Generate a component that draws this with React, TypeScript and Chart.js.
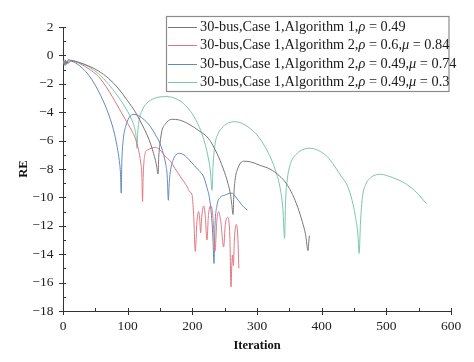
import React, { useEffect, useRef } from 'react';
import { Chart, registerables } from 'chart.js';

Chart.register(...registerables);

// ---- Data ----
const LEGEND_SEGMENTS: string[][] = [
  ['30-bus,Case 1,Algorithm 1,', 'ρ', ' = 0.49'],
  ['30-bus,Case 1,Algorithm 2,', 'ρ', ' = 0.6,', 'μ', ' = 0.84'],
  ['30-bus,Case 1,Algorithm 2,', 'ρ', ' = 0.49,', 'μ', ' = 0.74'],
  ['30-bus,Case 1,Algorithm 2,', 'ρ', ' = 0.49,', 'μ', ' = 0.3'],
];
const SERIES_COLORS = ['#777777', '#e07780', '#6089bd', '#78c6a8'];

const ALG1_X = [0, 2, 4, 6, 8, 12, 25, 40, 55, 70, 85, 100, 112, 122, 130, 136, 140, 143, 145, 147, 148, 150, 153, 158, 168, 180, 195, 210, 225, 238, 248, 255, 259, 261, 263, 264, 266, 270, 279, 290, 305, 320, 335, 345, 355, 363, 370, 375, 379, 380, 381];
const ALG1_Y = [-0.5, -0.7, -0.35, -0.6, -0.3, -0.35, -0.5, -0.75, -1.1, -1.6, -2.3, -3.2, -4.0, -4.85, -5.6, -6.3, -6.9, -7.4, -7.85, -8.35, -7.2, -6.2, -5.3, -4.85, -4.5, -4.55, -4.85, -5.3, -5.85, -6.9, -8.0, -9.0, -9.8, -10.5, -11.2, -10.0, -8.8, -8.0, -7.45, -7.5, -7.75, -8.0, -8.5, -9.0, -9.8, -10.7, -11.7, -12.6, -13.75, -13.2, -12.7];

const ALG2A_X = [0, 3, 6, 9, 12, 25, 40, 55, 68, 80, 90, 100, 108, 113, 117, 120, 122, 123, 124, 127, 131, 136, 143, 150, 158, 166, 173, 181, 187, 192, 196, 199.4, 202, 204.6, 207, 209.7, 211.5, 212.8, 214.5, 217.5, 220, 222.6, 225, 229, 232, 235, 238, 240.6, 244, 248.4, 251, 255, 258, 259.8, 261, 262, 263.5, 265, 267.9, 270, 272];
const ALG2A_Y = [-0.5, -0.6, -0.4, -0.5, -0.35, -0.55, -0.95, -1.5, -2.3, -3.2, -4.0, -4.8, -5.45, -6.0, -6.7, -7.5, -8.5, -10.3, -8.5, -6.9, -6.65, -6.55, -6.47, -6.66, -7.1, -7.45, -7.95, -8.5, -8.9, -9.25, -9.6, -9.8, -11.2, -13.8, -11.8, -11.0, -11.6, -12.5, -11.4, -10.6, -11.3, -13.0, -11.2, -10.6, -11.5, -13.8, -11.6, -11.0, -11.7, -13.5, -11.9, -11.4, -12.8, -16.3, -14.8, -14.05, -14.8, -13.0, -11.9, -12.5, -15.0];

const ALG2B_X = [0, 2, 4, 6, 8, 12, 20, 30, 40, 50, 58, 65, 71, 76, 80, 84, 87, 89, 90, 91, 93, 97, 102, 110, 117, 126, 135, 143, 150, 155, 159, 161, 163, 164, 166, 170, 175, 180, 187, 195, 203, 210, 217, 222, 227, 230, 232, 233.5, 235, 238, 243, 250, 255, 261, 266, 271, 276, 280, 285];
const ALG2B_Y = [-0.6, -0.4, -0.7, -0.45, -0.55, -0.4, -0.55, -0.9, -1.4, -2.1, -2.8, -3.5, -4.2, -4.9, -5.6, -6.5, -7.4, -8.4, -9.7, -7.5, -6.0, -5.0, -4.4, -4.15, -4.25, -4.55, -5.0, -5.6, -6.2, -6.9, -7.7, -8.4, -10.2, -9.2, -8.2, -7.4, -7.0, -6.9, -7.0, -7.35, -7.75, -8.1, -8.5, -9.2, -10.2, -11.5, -13.0, -14.65, -12.0, -10.6, -10.0, -9.85, -9.75, -9.7, -9.9, -10.2, -10.5, -10.7, -10.9];

const ALG2C_X = [0, 3, 5, 8, 12, 25, 40, 55, 70, 82, 92, 100, 106, 110, 113, 114.4, 115.5, 118, 122, 130, 140, 150, 161, 172, 184, 195, 205, 213, 220, 225, 228, 230.5, 232, 235, 240, 248, 256, 264, 275, 288, 300, 312, 322, 330, 336, 340, 342.7, 344, 347, 352, 360, 370, 382, 395, 408, 420, 430, 440, 447, 452, 456, 458, 460, 463, 468, 476, 485, 491, 500, 512, 525, 538, 550, 562];
const ALG2C_Y = [-0.5, -0.3, -0.6, -0.4, -0.35, -0.5, -0.8, -1.3, -2.0, -2.7, -3.35, -3.95, -4.5, -5.0, -5.7, -6.54, -5.5, -4.5, -3.9, -3.35, -3.05, -2.92, -2.9, -3.0, -3.3, -3.8, -4.5, -5.3, -6.3, -7.3, -8.2, -9.5, -7.8, -6.3, -5.5, -5.0, -4.75, -4.67, -4.75, -5.1, -5.6, -6.4, -7.3, -8.3, -9.4, -10.8, -12.9, -10.5, -8.7, -7.6, -7.0, -6.65, -6.54, -6.7, -7.1, -7.8, -8.5, -9.2, -10.2, -11.3, -12.6, -13.94, -11.8, -10.0, -9.1, -8.6, -8.4, -8.37, -8.45, -8.65, -8.9, -9.3, -9.8, -10.45];

const SERIES_X = [ALG1_X, ALG2A_X, ALG2B_X, ALG2C_X];
const SERIES_Y = [ALG1_Y, ALG2A_Y, ALG2B_Y, ALG2C_Y];

const X_MIN = 0, X_MAX = 600, X_STEP = 100, X_MINOR = 50;
const Y_MIN = -18, Y_MAX = 2, Y_STEP = 2, Y_MINOR = 1;
const X_TITLE = 'Iteration';
const Y_TITLE = 'RE';

const FONT = '"Liberation Serif", "Times New Roman", serif';

const axisTicksPlugin = {
  id: 'axisTicks',
  afterDraw(chart: any) {
    const { ctx, chartArea, scales } = chart;
    const xs = scales.x, ys = scales.y;
    ctx.save();
    ctx.strokeStyle = '#333';
    ctx.lineWidth = 1;
    ctx.beginPath();
    const b = chartArea.bottom, l = chartArea.left;
    for (let v = X_MIN; v <= X_MAX; v += X_MINOR) {
      const px = Math.round(xs.getPixelForValue(v)) + 0.5;
      const major = v % X_STEP === 0;
      ctx.moveTo(px, major ? b + 4 : b);
      ctx.lineTo(px, b - 3);
    }
    for (let v = Y_MIN; v <= Y_MAX; v += Y_MINOR) {
      const py = Math.round(ys.getPixelForValue(v)) + 0.5;
      const major = (v - Y_MIN) % Y_STEP === 0;
      ctx.moveTo(major ? l - 4 : l, py);
      ctx.lineTo(l + 3, py);
    }
    ctx.stroke();
    ctx.restore();
  },
};

const legendPlugin = {
  id: 'boxLegend',
  afterDraw(chart: any) {
    const { ctx } = chart;
    const boxL = 166, boxT = 16, boxW = 282.5, boxH = 75;
    const rowY = [26.7, 45.2, 63.7, 82.2];
    ctx.save();
    ctx.fillStyle = '#ffffff';
    ctx.fillRect(boxL, boxT, boxW, boxH);
    ctx.strokeStyle = '#8c8c8c';
    ctx.lineWidth = 1.2;
    ctx.strokeRect(boxL + 0.5, boxT + 0.5, boxW, boxH);
    LEGEND_SEGMENTS.forEach((segs, i) => {
      const y = rowY[i];
      ctx.strokeStyle = SERIES_COLORS[i];
      ctx.lineWidth = 1;
      ctx.beginPath();
      ctx.moveTo(168, Math.round(y) + 0.5);
      ctx.lineTo(197, Math.round(y) + 0.5);
      ctx.stroke();
      let x = 200;
      ctx.textBaseline = 'middle';
      ctx.fillStyle = '#1a1a1a';
      segs.forEach((s, j) => {
        const italic = j % 2 === 1;
        ctx.font = (italic ? 'italic ' : '') + '14.3px ' + FONT;
        ctx.fillText(s, x, y + 0.5);
        x += ctx.measureText(s).width;
      });
    });
    ctx.restore();
  },
};

export default function App() {
  const ref = useRef<HTMLCanvasElement | null>(null);
  useEffect(() => {
    if (!ref.current) return;
    const datasets = SERIES_X.map((xs, i) => ({
      label: LEGEND_SEGMENTS[i].join(''),
      data: xs.map((x, k) => ({ x, y: SERIES_Y[i][k] })),
      borderColor: SERIES_COLORS[i],
      backgroundColor: SERIES_COLORS[i],
      borderWidth: 1,
      pointRadius: 0,
      fill: false,
      cubicInterpolationMode: 'monotone' as const,
    }));
    const chart = new Chart(ref.current, {
      type: 'line',
      data: { datasets },
      options: {
        responsive: false,
        maintainAspectRatio: false,
        animation: false,
        layout: { padding: { left: 0, right: 23, top: 27, bottom: 0 } },
        plugins: { legend: { display: false }, tooltip: { enabled: false } },
        scales: {
          x: {
            type: 'linear',
            min: X_MIN,
            max: X_MAX,
            ticks: { stepSize: X_STEP, color: '#222', padding: 7.5, maxRotation: 0, font: { family: FONT, size: 13.5 } },
            grid: { display: false, drawTicks: false },
            border: { display: true, color: '#333', width: 1 },
            title: { display: true, text: X_TITLE, color: '#111', font: { family: FONT, size: 12.5, weight: 'bold' }, padding: { top: 0, bottom: 8.8 } },
            afterFit: (s: any) => { s.height = 51; },
          },
          y: {
            type: 'linear',
            min: Y_MIN,
            max: Y_MAX,
            ticks: {
              stepSize: Y_STEP,
              color: '#222',
              padding: 9.5,
              font: { family: FONT, size: 13.5 },
              callback: (v: any) => (Number(v) < 0 ? '\u2212' + Math.abs(Number(v)) : String(v)),
            },
            grid: { display: false, drawTicks: false },
            border: { display: true, color: '#333', width: 1 },
            title: { display: true, text: Y_TITLE, color: '#111', font: { family: FONT, size: 12.5, weight: 'bold' }, padding: { top: 16.5, bottom: 0 } },
            afterFit: (s: any) => { s.width = 63; },
          },
        },
      },
      plugins: [axisTicksPlugin, legendPlugin],
    });
    return () => chart.destroy();
  }, []);
  return (
    <div style={{ position: 'absolute', left: 0, top: 0, width: 474, height: 362, background: '#fff' }}>
      <canvas ref={ref} width={474} height={362} style={{ display: 'block' }} />
    </div>
  );
}
